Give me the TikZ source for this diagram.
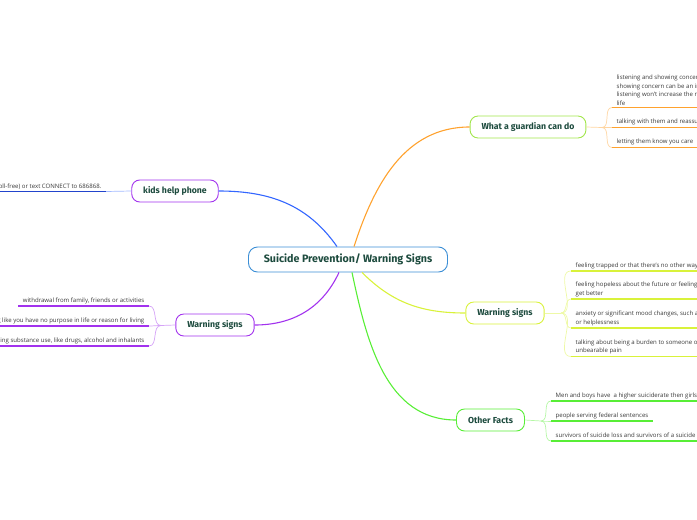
\documentclass[tikz,border=0pt]{standalone}
\usepackage{fontspec}
\setmainfont{Open Sans}
\newfontfamily\headfont{Fira Sans}
\usetikzlibrary{positioning}
\definecolor{titlegreen}{HTML}{1D4B3E}
\definecolor{leafgray}{HTML}{3A3A3A}
\definecolor{rootblue}{HTML}{3C8FD6}
\definecolor{mapblue}{HTML}{3366FF}
\definecolor{mapblueul}{HTML}{2244CC}
\definecolor{maporange}{HTML}{FFA22E}
\definecolor{mapyellow}{HTML}{D9F23A}
\definecolor{mapgreen}{HTML}{58EE36}
\definecolor{mappurple}{HTML}{A232EE}
\definecolor{guardgreen}{HTML}{A2E64C}
\tikzset{
	rootnode/.style={
			draw=rootblue,
			line width=0.9pt,
			fill=white,
			rounded corners=9pt,
			minimum width=199pt,
			minimum height=25pt,
			text=titlegreen,
			font=\headfont\bfseries\fontsize{10.7}{12}\selectfont
		},
	topicnode/.style={
			draw=#1,
			line width=0.9pt,
			fill=white,
			rounded corners=8pt,
			minimum height=22pt,
			inner xsep=11.5pt,
			text=titlegreen,
			font=\headfont\bfseries\fontsize{8.7}{10}\selectfont
		},
	leafnode/.style={
			inner xsep=4.5pt,
			inner ysep=2.2pt,
			align=left,
			text=leafgray,
			font=\fontsize{6.05}{8.5}\selectfont
		},
	leafright/.style={leafnode, anchor=south west},
	leafleft/.style={leafnode, anchor=south east, align=right},
	mainline/.style={line width=1.1pt, #1},
	twig/.style={line width=0.7pt, #1!45},
	underline/.style={line width=1.6pt, #1}
}
\begin{document}
\begin{tikzpicture}[x=1pt, y=-1pt]
\useasboundingbox (0,0) rectangle (697,520);
\clip (0,0) rectangle (697,520);

% topics
\node[rootnode] (root) at (348,259.5) {Suicide Prevention/ Warning Signs};
\node[topicnode=mappurple] (kids) at (175,191) {kids help phone};
\node[topicnode=guardgreen] (guard) at (528,127) {What a guardian can do};
\node[topicnode=mapyellow] (warnR) at (505,313) {Warning signs};
\node[topicnode=mappurple] (warnL) at (215,325) {Warning signs};
\node[topicnode=mapgreen] (facts) at (490.5,420) {Other Facts};

% branches from the root
\draw[mainline=mapblue] (kids.east) to[out=0, in=125] ([xshift=-11pt]root.north);
\draw[mainline=maporange] ([xshift=6pt]root.north) to[out=72, in=180] (guard.west);
\draw[mainline=mappurple] ([xshift=-9pt]root.south) to[out=-115, in=0] (warnL.east);
\draw[mainline=mapgreen] ([xshift=4pt]root.south) to[out=-78, in=180] (facts.west);
\draw[mainline=mapyellow] ([xshift=14pt]root.south) to[out=-45, in=180] (warnR.west);

% kids help phone
\node[leafleft] (k1) at (106,191.5) {Call 1-800-668-6868 (toll-free) or text CONNECT to 686868.};
\draw[twig=mapblue] (kids.west) -- (k1.south east);
\draw[underline=mapblueul] (k1.south west) -- (k1.south east);

% what a guardian can do
\coordinate (gb) at (602,127.5);
\node[leafright] (g1) at (612,107.5) {listening and showing concern without judgement;\\showing concern can be an important first step,\\listening won't increase the risk of them taking their own\\life};
\node[leafright] (g2) at (612,127.5) {talking with them and reassuring them};
\node[leafright] (g3) at (612,147.5) {letting them know you care};
\draw[twig=maporange] (guard.east) -- (gb);
\foreach \leaf in {g1,g2,g3}
  \draw[twig=maporange] (gb) to[out=0, in=180] (\leaf.south west);
\foreach \leaf in {g1,g2,g3}
  \draw[underline=maporange] (\leaf.south west) -- (\leaf.south east);

% warning signs (right)
\coordinate (rb) at (561,313);
\node[leafright] (r1) at (571,271) {feeling trapped or that there's no other way out};
\node[leafright] (r2) at (571,299) {feeling hopeless about the future or feeling things won't\\get better};
\node[leafright] (r3) at (571,328) {anxiety or significant mood changes, such as anger, sadness\\or helplessness};
\node[leafright] (r4) at (571,356.5) {talking about being a burden to someone or being in\\unbearable pain};
\draw[twig=mapyellow] (warnR.east) -- (rb);
\foreach \leaf in {r1,r2,r3,r4}
  \draw[twig=mapyellow] (rb) to[out=0, in=180] (\leaf.south west);
\foreach \leaf in {r1,r2,r3,r4}
  \draw[underline=mapyellow] (\leaf.south west) -- (\leaf.south east);

% other facts
\coordinate (fb) at (541,421);
\node[leafright] (f1) at (551,401) {Men and boys have\ \ a higher suiciderate then girls and women};
\node[leafright] (f2) at (551,421) {people serving federal sentences};
\node[leafright] (f3) at (551,441) {survivors of suicide loss and survivors of a suicide attempt};
\draw[twig=mapgreen] (facts.east) -- (fb);
\foreach \leaf in {f1,f2,f3}
  \draw[twig=mapgreen] (fb) to[out=0, in=180] (\leaf.south west);
\foreach \leaf in {f1,f2,f3}
  \draw[underline=mapgreen] (\leaf.south west) -- (\leaf.south east);

% warning signs (left)
\coordinate (lb) at (161,325.5);
\node[leafleft] (w1) at (149,306) {withdrawal from family, friends or activities};
\node[leafleft] (w2) at (149,326) {feeling like you have no purpose in life or reason for living};
\node[leafleft] (w3) at (149,346) {increasing substance use, like drugs, alcohol and inhalants};
\draw[twig=mappurple] (warnL.west) -- (lb);
\foreach \leaf in {w1,w2,w3}
  \draw[twig=mappurple] (lb) to[out=180, in=0] (\leaf.south east);
\foreach \leaf in {w1,w2,w3}
  \draw[underline=mappurple] (\leaf.south west) -- (\leaf.south east);
\end{tikzpicture}
\end{document}
